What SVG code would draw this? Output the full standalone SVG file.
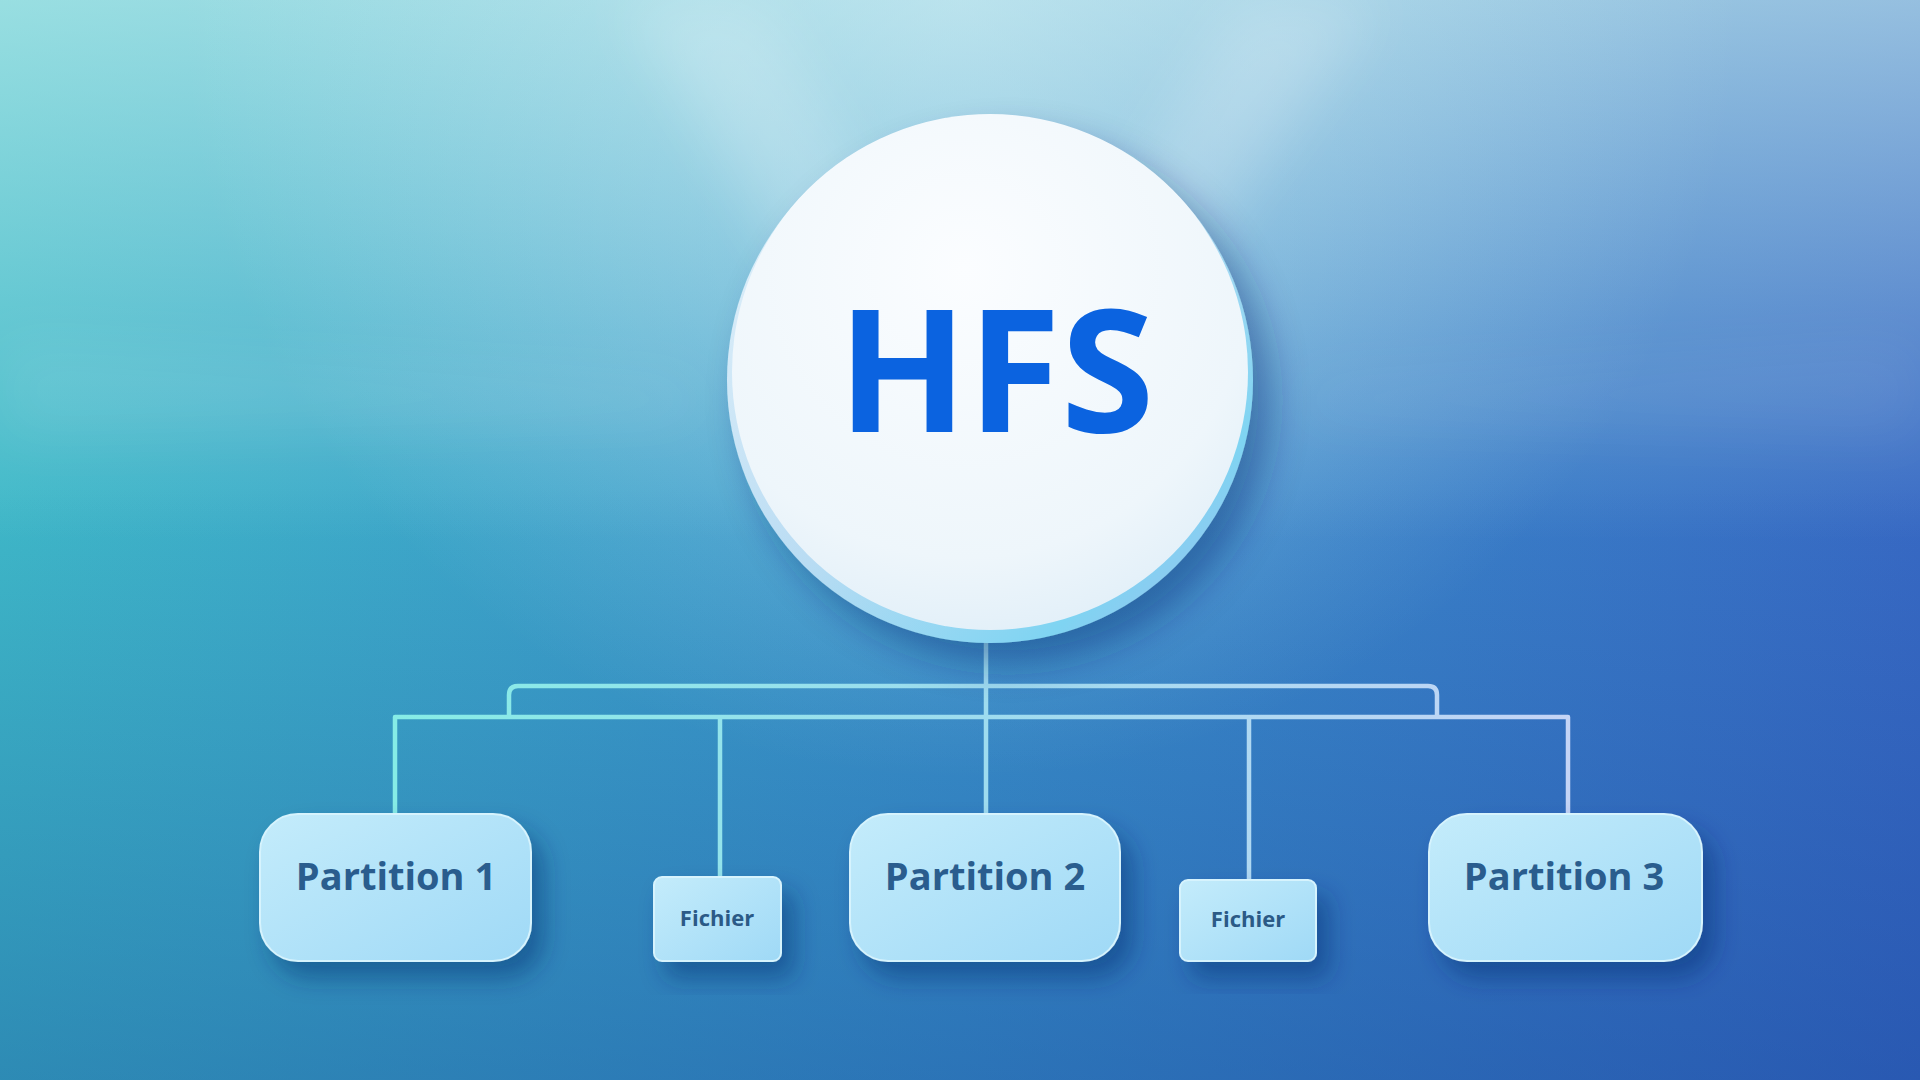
<svg xmlns="http://www.w3.org/2000/svg" width="1920" height="1080" viewBox="0 0 1920 1080">
<defs>
<linearGradient id="bgH" x1="0" y1="0" x2="1" y2="0">
<stop offset="0" stop-color="#3fb8c8"/>
<stop offset="0.5" stop-color="#3c94cc"/>
<stop offset="1" stop-color="#386ac4"/>
</linearGradient>
<linearGradient id="bgTop" x1="0" y1="0" x2="0" y2="1">
<stop offset="0" stop-color="#d4f8f2" stop-opacity="0.6"/>
<stop offset="0.5" stop-color="#d4f8f2" stop-opacity="0"/>
</linearGradient>
<linearGradient id="bgBot" x1="0" y1="0" x2="0" y2="1">
<stop offset="0.45" stop-color="#0e3a92" stop-opacity="0"/>
<stop offset="1" stop-color="#0e3a92" stop-opacity="0.36"/>
</linearGradient>
<radialGradient id="glow" cx="960" cy="0" r="780" gradientUnits="userSpaceOnUse">
<stop offset="0" stop-color="#e6fafa" stop-opacity="0.45"/>
<stop offset="1" stop-color="#e6fafa" stop-opacity="0"/>
</radialGradient>
<radialGradient id="circFill" cx="0.45" cy="0.3" r="0.8">
<stop offset="0" stop-color="#fbfdff"/>
<stop offset="0.7" stop-color="#eef6fb"/>
<stop offset="1" stop-color="#dcecf7"/>
</radialGradient>
<linearGradient id="rim" x1="0" y1="0" x2="1" y2="1">
<stop offset="0" stop-color="#e8f4fb"/>
<stop offset="0.5" stop-color="#b9dcf3"/>
<stop offset="0.8" stop-color="#7fd4f2"/>
<stop offset="1" stop-color="#a8b8ee"/>
</linearGradient>
<linearGradient id="boxFill" x1="0" y1="0" x2="1" y2="1">
<stop offset="0" stop-color="#c4ecfb"/>
<stop offset="1" stop-color="#9fd9f6"/>
</linearGradient>
<linearGradient id="lineGrad" x1="395" y1="0" x2="1568" y2="0" gradientUnits="userSpaceOnUse">
<stop offset="0" stop-color="#86ece6"/>
<stop offset="0.5" stop-color="#9edcef"/>
<stop offset="1" stop-color="#c4d4f6"/>
</linearGradient>
<filter id="shadow" x="-30%" y="-30%" width="170%" height="170%">
<feDropShadow dx="12" dy="16" stdDeviation="12" flood-color="#0a2c70" flood-opacity="0.45"/>
</filter>
<filter id="bigShadow" x="-30%" y="-30%" width="170%" height="170%">
<feDropShadow dx="18" dy="20" stdDeviation="18" flood-color="#0a2c70" flood-opacity="0.4"/>
</filter>
<filter id="blur" x="-20%" y="-20%" width="140%" height="140%">
<feGaussianBlur stdDeviation="30"/>
</filter>
</defs>
<style>
.conn { fill: none; stroke: url(#lineGrad); stroke-width: 4.5; stroke-linejoin: round; }
.box { fill: url(#boxFill); stroke: #d6f3fd; stroke-width: 2; filter: url(#shadow); }
.plabel { font-family: "Open Sans", "Noto Sans", sans-serif; font-weight: 700; font-size: 38px; fill: #2a5d8e; text-anchor: middle; }
.flabel { font-family: "Open Sans", "Noto Sans", sans-serif; font-weight: 700; font-size: 22px; fill: #2b5a86; text-anchor: middle; }
</style>

<!-- background -->
<rect width="1920" height="1080" fill="url(#bgH)"/>
<rect width="1920" height="1080" fill="url(#bgTop)"/>
<rect width="1920" height="1080" fill="url(#bgBot)"/>
<rect width="1920" height="1080" fill="url(#glow)"/>
<g filter="url(#blur)" opacity="0.2">
<polygon points="620,0 760,0 1000,420 930,480" fill="#ffffff"/>
<polygon points="1240,0 1380,0 1060,440 1000,400" fill="#ffffff"/>
<polygon points="0,340 700,380 700,420 0,440" fill="#ffffff" opacity="0.4"/>
<polygon points="1300,380 1920,340 1920,440 1300,420" fill="#ffffff" opacity="0.3"/>
</g>

<!-- connectors -->
<g id="connectors">
<path class="conn" d="M986 636 V814"/>
<path class="conn" d="M509 717 V695 Q509 686 518 686 H1428 Q1437 686 1437 695 V717"/>
<path class="conn" d="M395 814 V717 H1568 V814"/>
<path class="conn" d="M720 717 V877"/>
<path class="conn" d="M1249 717 V880"/>
</g>

<!-- HFS root -->
<g id="node-hfs">
<circle cx="990" cy="380" r="263" fill="url(#rim)" filter="url(#bigShadow)"/>
<circle cx="990" cy="372" r="258" fill="url(#circFill)"/>
<text x="996" y="432" font-family="'Open Sans', 'Noto Sans', sans-serif" font-weight="700" font-size="170" fill="#0b63e0" text-anchor="middle">HFS</text>
</g>

<g id="node-partition1">
<rect class="box" x="260" y="814" width="271" height="147" rx="38"/>
<text class="plabel" x="396" y="890">Partition 1</text>
</g>

<g id="node-fichier1">
<rect class="box" x="654" y="877" width="127" height="84" rx="8"/>
<text class="flabel" x="717" y="926">Fichier</text>
</g>

<g id="node-partition2">
<rect class="box" x="850" y="814" width="270" height="147" rx="38"/>
<text class="plabel" x="985" y="890">Partition 2</text>
</g>

<g id="node-fichier2">
<rect class="box" x="1180" y="880" width="136" height="81" rx="8"/>
<text class="flabel" x="1248" y="927">Fichier</text>
</g>

<g id="node-partition3">
<rect class="box" x="1429" y="814" width="273" height="147" rx="38"/>
<text class="plabel" x="1564" y="890">Partition 3</text>
</g>
</svg>
